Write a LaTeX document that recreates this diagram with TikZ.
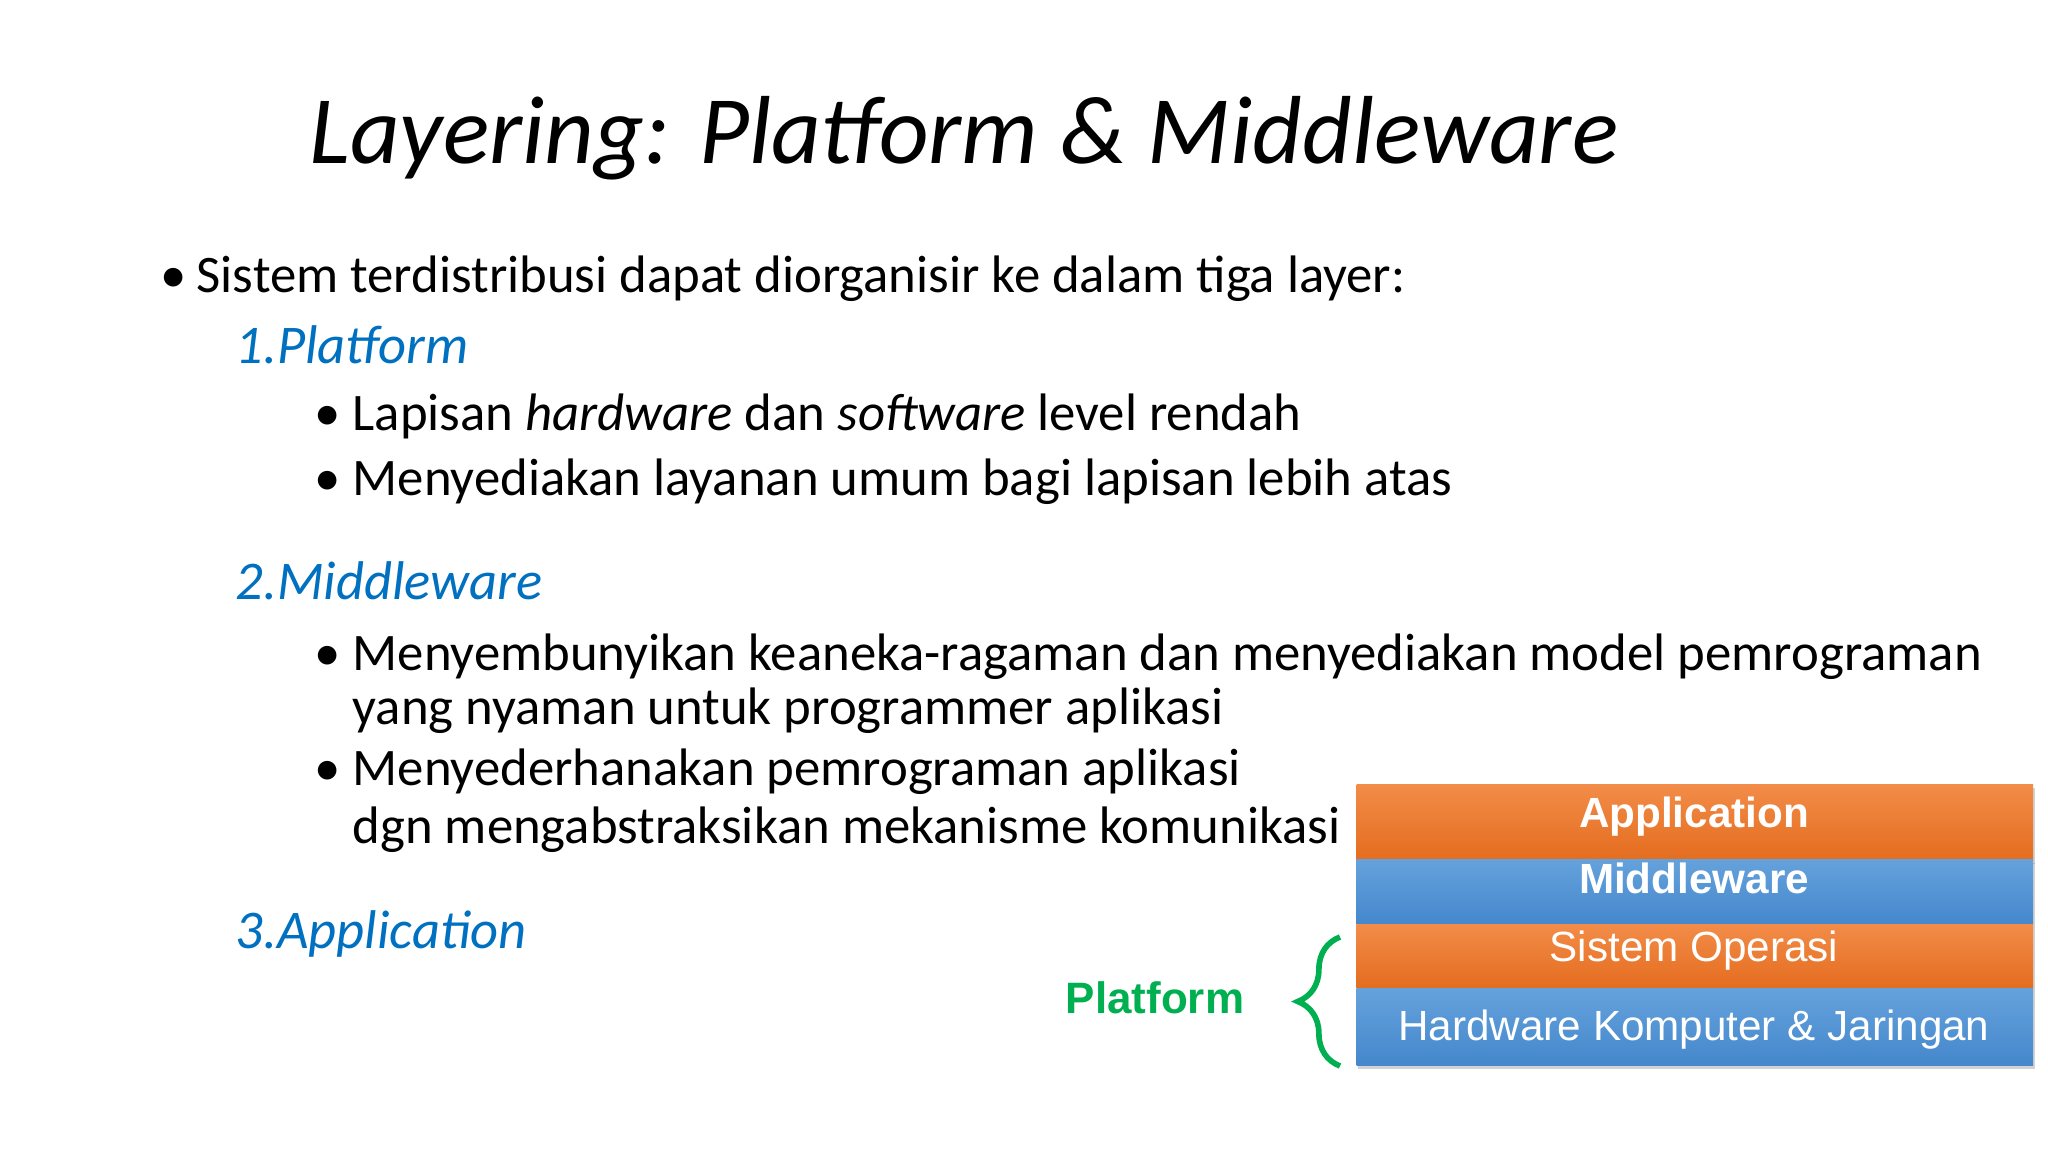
\documentclass[tikz,border=0pt]{standalone}
\usepackage{fontspec}
\setmainfont{Carlito}
\newfontfamily\arialf{Liberation Sans}
\usetikzlibrary{shadows,decorations.pathreplacing}
\definecolor{tblue}{HTML}{0070C0}
\definecolor{pgreen}{HTML}{00B050}
\definecolor{orA}{HTML}{F28C48}
\definecolor{orB}{HTML}{E46C1E}
\definecolor{blA}{HTML}{65A2DC}
\definecolor{blB}{HTML}{4487CC}
\tikzset{
  body/.style={anchor=base west,inner sep=0pt,font=\fontsize{15}{18}\selectfont},
  num/.style={body,text=tblue,font=\fontsize{15.5}{18}\selectfont\itshape},
  layer/.style={minimum width=6.76cm,inner sep=0pt,anchor=north west,draw=none,drop shadow={opacity=0.35,shadow xshift=0.4pt,shadow yshift=-0.8pt},text=white,font=\arialf\fontsize{11.5}{13}\selectfont},
  orange/.style={layer,top color=orA,bottom color=orB},
  blue/.style={layer,top color=blA,bottom color=blB},
}
\begin{document}
\begin{tikzpicture}[x=0.01cm,y=-0.01cm]
\useasboundingbox (0,0) rectangle (2048,1152);
\fill[white] (0,0) rectangle (2048,1152);
\node[anchor=base,inner sep=0pt,font=\fontsize{27.5}{32}\selectfont\itshape] (title) at (964,164) {Layering: Platform \& Middleware};
\node[body] (b0) at (160,293) {•};
\node[body] (t0) at (196,293) {Sistem terdistribusi dapat diorganisir ke dalam tiga layer:};
\node[num] (n1) at (235,364) {1.Platform};
\node[body] (b1) at (314,431) {•};
\node[body] (t1) at (352,431) {Lapisan \textit{hardware} dan \textit{software} level rendah};
\node[body] (b2) at (314,496) {•};
\node[body] (t2) at (352,496) {Menyediakan layanan umum bagi lapisan lebih atas};
\node[num] (n2) at (235,600) {2.Middleware};
\node[body] (b3) at (314,670) {•};
\node[body] (t3) at (352,670) {Menyembunyikan keaneka-ragaman dan menyediakan model pemrograman};
\node[body] (t3b) at (352,725) {yang nyaman untuk programmer aplikasi};
\node[body] (b4) at (314,785) {•};
\node[body] (t4) at (352,785) {Menyederhanakan pemrograman aplikasi};
\node[body] (t4b) at (352,843) {dgn mengabstraksikan mekanisme komunikasi};
\node[num] (n3) at (235,948) {3.Application};
\node[orange,minimum height=0.76cm,font=\arialf\bfseries\fontsize{12}{14}\selectfont] (app) at (1356,784) {};
\node[font=\arialf\bfseries\fontsize{12}{14}\selectfont,text=white,anchor=base] (appt) at (1694,827) {Application};
\node[blue,minimum height=0.65cm] (mid) at (1356,859) {};
\node[font=\arialf\bfseries\fontsize{12}{14}\selectfont,text=white,anchor=base] (midt) at (1694,893) {Middleware};
\node[orange,minimum height=0.64cm] (os) at (1356,924) {};
\node[font=\arialf\fontsize{12}{14}\selectfont,text=white,anchor=base] (ost) at (1694,961) {Sistem Operasi};
\node[blue,minimum height=0.77cm] (hw) at (1356,988) {};
\node[font=\arialf\fontsize{12}{14}\selectfont,text=white,anchor=base] (hwt) at (1694,1040) {Hardware Komputer \& Jaringan};
\coordinate (bt) at (1340,937);
\coordinate (bb) at (1340,1066);
\draw[pgreen,line width=1.6pt,decorate,decoration={brace,amplitude=12pt}] (bb) -- (bt);
\node[anchor=base,text=pgreen,font=\arialf\bfseries\fontsize{12.5}{14}\selectfont] (plat) at (1155,1013) {Platform};
\end{tikzpicture}
\end{document}
